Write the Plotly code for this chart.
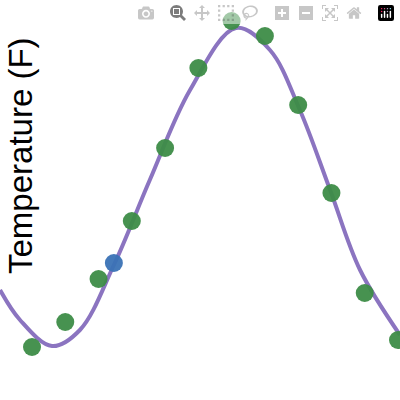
import plotly.graph_objects as go

month = [1, 2, 3, 4, 5, 6, 7, 8, 9, 10, 11, 12]
temp = [30.6, 35.6, 44.2, 55.8, 70.4, 86.4, 95.8, 92.8, 79.0, 61.4, 41.4, 32.0]
hl_x = [3.46]
hl_y = [47.4]
fit_x = [0.04, 0.64, 1.6, 2.44, 3.46, 4.54, 5.75, 7.13, 8.15, 9.05, 9.96, 10.86, 12.06]
fit_y = [42.0, 36.0, 30.8, 34.0, 47.0, 64.0, 82.0, 94.4, 90.0, 78.0, 62.0, 46.0, 33.0]

fig = go.Figure()
fig.add_trace(go.Scatter(x=fit_x, y=fit_y, mode="lines", cliponaxis=False,
                         line=dict(color="#8b74c0", width=4, shape="spline", smoothing=1.0)))
fig.add_trace(go.Scatter(x=month, y=temp, mode="markers", marker=dict(color="#3d8c47", size=18, opacity=0.95)))
fig.add_trace(go.Scatter(x=hl_x, y=hl_y, mode="markers", marker=dict(color="#3a72b5", size=18, opacity=0.95)))
fig.update_layout(width=400, height=400, margin=dict(l=0, r=0, t=0, b=0), showlegend=False,
                  plot_bgcolor="white", paper_bgcolor="white")
fig.update_xaxes(range=[0.038, 12.06], visible=False)
fig.update_yaxes(range=[20, 100], showgrid=False, zeroline=False, showticklabels=False,
                 showline=True, linecolor="black", linewidth=3)
fig.add_annotation(text="Temperature (F)", xref="paper", yref="paper", x=0.05, y=0.61,
                   xanchor="center", yanchor="middle", textangle=-90,
                   showarrow=False, font=dict(family="Liberation Sans", size=33, color="black"))
fig.write_html("out.html", post_script="document.body.style.margin='0';")
